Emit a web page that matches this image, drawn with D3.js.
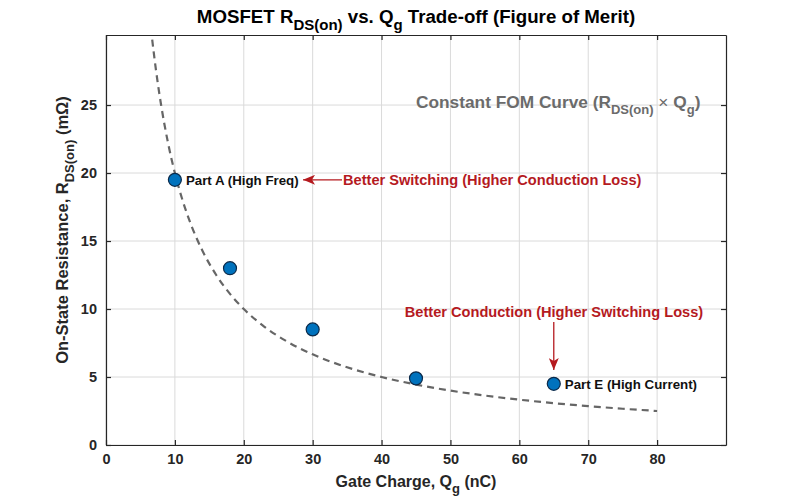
<!DOCTYPE html>
<html><head><meta charset="utf-8">
<script src="https://cdn.jsdelivr.net/npm/d3@7"></script>
<style>body{margin:0;background:#fff}svg{font-family:"Liberation Sans",Arial,sans-serif}</style>
</head><body><svg id="c" width="800" height="500"></svg>
<script>
const parts = ["Part A (High Freq)", "", "", "", "Part E (High Current)"];
const qg = [10, 18, 30, 45, 65];
const rds = [19.5, 13, 8.5, 4.9, 4.5];
const fom = 200;
const curveQ = [6, 6.5, 7, 7.5, 8, 9, 10, 11, 12, 14, 16, 18, 20, 23, 26, 30, 35, 40, 45, 50, 55, 60, 65, 70, 75, 80];
const xTicks = [0, 10, 20, 30, 40, 50, 60, 70, 80];
const yTicks = [0, 5, 10, 15, 20, 25];

const svg = d3.select("#c");
const L = 106, R = 726, T = 35, B = 445;
const x = d3.scaleLinear().domain([0, 90]).range([L, R]);
const y = d3.scaleLinear().domain([0, 30.15]).range([B, T]);
const red = "#B51A1F";

// grid
svg.append("g").selectAll("line").data(xTicks).join("line")
  .attr("x1", d => x(d)).attr("x2", d => x(d)).attr("y1", T).attr("y2", B)
  .attr("stroke", "#dadada").attr("stroke-width", 1);
svg.append("g").selectAll("line").data(yTicks).join("line")
  .attr("x1", L).attr("x2", R).attr("y1", d => y(d)).attr("y2", d => y(d))
  .attr("stroke", "#dadada").attr("stroke-width", 1);

svg.append("clipPath").attr("id", "clip").append("rect").attr("x", L).attr("y", T).attr("width", R - L).attr("height", B - T);

// FOM curve
const line = d3.line().x(d => x(d)).y(d => y(fom / d)).curve(d3.curveMonotoneX);
svg.append("path").datum(curveQ).attr("d", line).attr("clip-path", "url(#clip)")
  .attr("fill", "none").attr("stroke", "#666").attr("stroke-width", 2.2).attr("stroke-dasharray", "7,5");

// axes
const axB = svg.append("g").attr("transform", `translate(0,${B})`).call(d3.axisBottom(x).tickValues(xTicks).tickSizeInner(-5).tickSizeOuter(0).tickPadding(9));
const axT = svg.append("g").attr("transform", `translate(0,${T})`).call(d3.axisTop(x).tickValues(xTicks).tickSizeInner(-5).tickSizeOuter(0).tickFormat(""));
const axL = svg.append("g").attr("transform", `translate(${L},0)`).call(d3.axisLeft(y).tickValues(yTicks).tickSizeInner(-5).tickSizeOuter(0).tickPadding(9));
const axR = svg.append("g").attr("transform", `translate(${R},0)`).call(d3.axisRight(y).tickValues(yTicks).tickSizeInner(-5).tickSizeOuter(0).tickFormat(""));
[axB, axT, axL, axR].forEach(g => {
  g.select(".domain").attr("stroke", "#262626").attr("stroke-width", 1.2);
  g.selectAll(".tick line").attr("stroke", "#262626").attr("stroke-width", 1.2);
  g.selectAll("text").attr("font-family", "Liberation Sans, Arial, sans-serif").attr("font-size", 14.5).attr("font-weight", "bold").attr("fill", "#262626");
});

const defs = svg.append("defs");
defs.append("marker").attr("id", "ah").attr("viewBox", "0 0 12 10").attr("refX", 12).attr("refY", 5)
  .attr("markerWidth", 13).attr("markerHeight", 10).attr("markerUnits", "userSpaceOnUse").attr("orient", "auto")
  .append("path").attr("d", "M0,0 L12,5 L0,10 L3,5 Z").attr("fill", red);

// points
svg.append("g").selectAll("circle").data(qg).join("circle")
  .attr("cx", d => x(d)).attr("cy", (d, i) => y(rds[i])).attr("r", 6.5)
  .attr("fill", "#0072BD").attr("stroke", "#0b2a4a").attr("stroke-width", 1.2);

svg.append("g").selectAll("text").data(parts).join("text")
  .attr("x", (d, i) => x(qg[i]) + 11).attr("y", (d, i) => y(rds[i]) + 5)
  .attr("font-size", 13.3).attr("font-weight", "bold").attr("fill", "#111").text(d => d);

// annotation 1
svg.append("line").attr("x1", 342).attr("y1", y(rds[0])).attr("x2", x(28.6)).attr("y2", y(rds[0]))
  .attr("stroke", red).attr("stroke-width", 1.3).attr("marker-end", "url(#ah)");
svg.append("text").attr("x", 343).attr("y", y(rds[0]) + 5).attr("font-size", 14.6).attr("font-weight", "bold").attr("fill", red)
  .text("Better Switching (Higher Conduction Loss)");

// annotation 2
svg.append("text").attr("x", 554).attr("y", 317).attr("text-anchor", "middle").attr("font-size", 14.6).attr("font-weight", "bold").attr("fill", red)
  .text("Better Conduction (Higher Switching Loss)");
svg.append("line").attr("x1", x(qg[4])).attr("y1", 322).attr("x2", x(qg[4])).attr("y2", 370)
  .attr("stroke", red).attr("stroke-width", 1.3).attr("marker-end", "url(#ah)");

// FOM label
const fl = svg.append("text").attr("x", 416).attr("y", 108).attr("font-size", 17.3).attr("font-weight", "bold").attr("fill", "#6b6b6b");
fl.append("tspan").text("Constant FOM Curve (R");
fl.append("tspan").attr("dy", 6).attr("font-size", 13).text("DS(on)");
fl.append("tspan").attr("dy", -6).attr("font-weight", "normal").text(" × ");
fl.append("tspan").text("Q");
fl.append("tspan").attr("dy", 6).attr("font-size", 13).text("g");
fl.append("tspan").attr("dy", -6).text(")");

// title
const tt = svg.append("text").attr("x", 416).attr("y", 23).attr("text-anchor", "middle").attr("font-size", 18.7).attr("font-weight", "bold").attr("fill", "#000");
tt.append("tspan").text("MOSFET R");
tt.append("tspan").attr("dy", 7).attr("font-size", 15).text("DS(on)");
tt.append("tspan").attr("dy", -7).text(" vs. Q");
tt.append("tspan").attr("dy", 7).attr("font-size", 15).text("g");
tt.append("tspan").attr("dy", -7).text(" Trade-off (Figure of Merit)");

// x label
const xl = svg.append("text").attr("x", 416).attr("y", 487).attr("text-anchor", "middle").attr("font-size", 16).attr("font-weight", "bold").attr("fill", "#262626");
xl.append("tspan").text("Gate Charge, Q");
xl.append("tspan").attr("dy", 6).attr("font-size", 13).text("g");
xl.append("tspan").attr("dy", -6).text(" (nC)");

// y label
const yl = svg.append("text").attr("transform", `translate(68,${(T + B) / 2 - 10}) rotate(-90)`).attr("text-anchor", "middle").attr("font-size", 16.5).attr("font-weight", "bold").attr("fill", "#262626");
yl.append("tspan").text("On-State Resistance, R");
yl.append("tspan").attr("dy", 6).attr("font-size", 13).text("DS(on)");
yl.append("tspan").attr("dy", -6).text(" (mΩ)");
</script></body></html>
